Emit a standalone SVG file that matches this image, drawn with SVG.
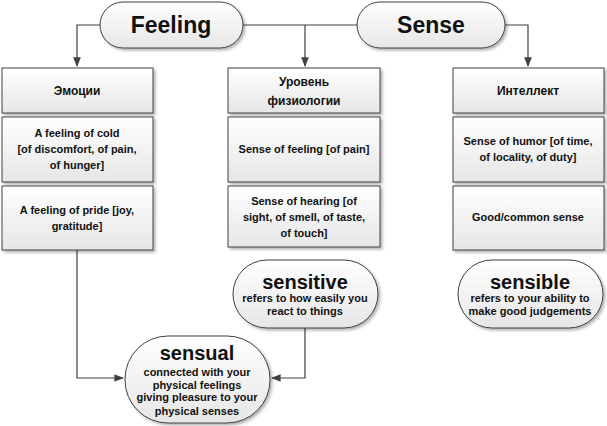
<svg xmlns="http://www.w3.org/2000/svg" width="607" height="426" viewBox="0 0 607 426">
<defs>
<linearGradient id="g" x1="0" y1="0" x2="0" y2="1"><stop offset="0" stop-color="#ffffff"/><stop offset="1" stop-color="#e6e6e6"/></linearGradient>
<filter id="s" x="-10%" y="-10%" width="130%" height="130%"><feDropShadow dx="2" dy="2" stdDeviation="1.5" flood-color="#000" flood-opacity="0.3"/></filter>
<marker id="a" viewBox="0 0 10 10" refX="9" refY="5" markerWidth="8" markerHeight="8" orient="auto"><path d="M0,1 L10,5 L0,9 z" fill="#404040"/></marker>
</defs>
<style>
.n{fill:url(#g);stroke:#404040;stroke-width:1;filter:url(#s)}
.c{fill:none;stroke:#404040;stroke-width:1.2}
text{font-family:"Liberation Sans",Arial,sans-serif;font-weight:bold;fill:#111;text-anchor:middle}
.t{font-size:11px}
.h{font-size:12px}
.big{font-size:23px}
.m{font-size:20px}
</style>
<g id="connectors">
<path class="c" d="M100,25 H77 V66" marker-end="url(#a)"/>
<path class="c" d="M243,25 H357 M305,25 V66" marker-end="url(#a)"/>
<path class="c" d="M505,25 H528 V66" marker-end="url(#a)"/>
<path class="c" d="M77,250 V378 H123" marker-end="url(#a)"/>
<path class="c" d="M305,328 V378 H272" marker-end="url(#a)"/>
</g>
<g id="feeling"><rect class="n" x="100" y="2" width="143" height="46" rx="23"/><text class="big" x="171" y="33">Feeling</text></g>
<g id="sense"><rect class="n" x="357" y="2" width="148" height="46" rx="23"/><text class="big" x="431" y="33">Sense</text></g>
<g id="emotsii"><rect class="n" x="2" y="68" width="151" height="45"/><text class="h" x="77" y="95">Эмоции</text></g>
<g id="cold"><rect class="n" x="2" y="117" width="151" height="65"/><text class="t" x="77" y="137">A feeling of cold</text><text class="t" x="77" y="153">[of discomfort, of pain,</text><text class="t" x="77" y="169">of hunger]</text></g>
<g id="pride"><rect class="n" x="2" y="186" width="151" height="64"/><text class="t" x="77" y="214">A feeling of pride [joy,</text><text class="t" x="77" y="230">gratitude]</text></g>
<g id="uroven"><rect class="n" x="228" y="68" width="152" height="45"/><text class="h" x="304" y="86">Уровень</text><text class="h" x="304" y="105">физиологии</text></g>
<g id="pain"><rect class="n" x="228" y="117" width="152" height="65"/><text class="t" x="304" y="153">Sense of feeling [of pain]</text></g>
<g id="hearing"><rect class="n" x="228" y="186" width="152" height="61"/><text class="t" x="304" y="205">Sense of hearing [of</text><text class="t" x="304" y="221">sight, of smell, of taste,</text><text class="t" x="304" y="237">of touch]</text></g>
<g id="intellekt"><rect class="n" x="453" y="68" width="151" height="45"/><text class="h" x="528" y="95">Интеллект</text></g>
<g id="humor"><rect class="n" x="453" y="117" width="151" height="65"/><text class="t" x="528" y="145">Sense of humor [of time,</text><text class="t" x="528" y="161">of locality, of duty]</text></g>
<g id="common"><rect class="n" x="453" y="186" width="151" height="64"/><text class="t" x="528" y="221">Good/common sense</text></g>
<g id="sensitive"><rect class="n" x="233" y="260" width="145" height="68" rx="34"/><text class="m" x="305" y="289">sensitive</text><text class="t" x="305" y="302">refers to how easily you</text><text class="t" x="305" y="315">react to things</text></g>
<g id="sensible"><rect class="n" x="458" y="260" width="145" height="68" rx="34"/><text class="m" x="530" y="289">sensible</text><text class="t" x="530" y="302">refers to your ability to</text><text class="t" x="530" y="315">make good judgements</text></g>
<g id="sensual"><rect class="n" x="125" y="336" width="145" height="87" rx="43"/><text class="m" x="197" y="360">sensual</text><text class="t" x="197" y="376">connected with your</text><text class="t" x="197" y="389">physical feelings</text><text class="t" x="197" y="401">giving pleasure to your</text><text class="t" x="197" y="415">physical senses</text></g>
</svg>
